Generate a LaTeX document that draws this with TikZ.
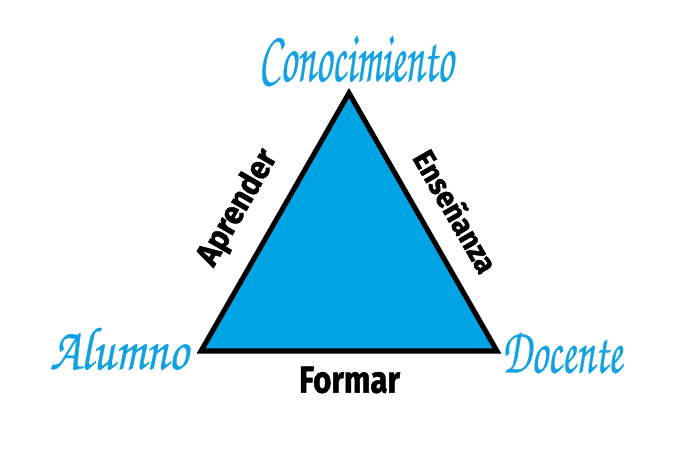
\documentclass[tikz,border=0pt]{standalone}
\usepackage{fontspec}
\setmainfont{Fira Sans}
\newfontfamily\heavy{Fira Sans}[BoldFeatures={FakeBold=1.5}]
\newfontfamily\chorus{texgyrechorus-mediumitalic.otf}[FakeBold=0.6]
\usepackage{graphicx}
\definecolor{triblue}{RGB}{0,163,228}
\definecolor{txtblue}{RGB}{18,162,226}
\begin{document}
\begin{tikzpicture}[x=0.75pt,y=-0.75pt,
  vertexlabel/.style={inner sep=0pt, text=txtblue, font=\chorus},
  edgelabel/.style={inner sep=0pt, font=\heavy\bfseries},
  tri/.style={line width=3.8pt, draw=black, fill=triblue, line join=miter}]
\useasboundingbox (0,0) rectangle (673,464);
\coordinate (top) at (349,93);
\coordinate (left) at (201,351);
\coordinate (right) at (497,351);
\draw[tri] (top) -- (left) -- (right) -- cycle;
\node[vertexlabel] (conoc) at (356,61) {\resizebox{146pt}{34pt}{Conocimiento}};
\node[vertexlabel] (alumno) at (119,349) {\resizebox{103.5pt}{31pt}{Alumno}};
\node[vertexlabel] (docente) at (562,353) {\resizebox{90pt}{30pt}{Docente}};
\node[edgelabel] (formar) at (349.5,380) {\resizebox{75.75pt}{19.5pt}{Formar}};
\node[edgelabel, rotate=60] (aprender) at (238,208) {\resizebox{96pt}{18.75pt}{Aprender}};
\node[edgelabel, rotate=-60] (ense) at (456,211) {\resizebox{102pt}{18pt}{Enseñanza}};
\end{tikzpicture}
\end{document}
